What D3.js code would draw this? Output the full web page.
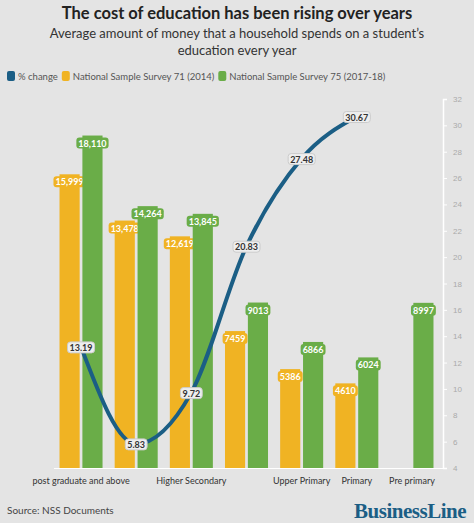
<!DOCTYPE html>
<html>
<head>
<script src="https://cdnjs.cloudflare.com/ajax/libs/d3/7.8.5/d3.min.js"></script>
<style>body{margin:0;background:#e4e4e4}</style>
</head>
<body>
<script>
var categories = ["post graduate and above", "Graduate", "Higher Secondary", "Secondary", "Upper Primary", "Primary", "Pre primary"]
var shownLabels = ["post graduate and above", "Higher Secondary", "Upper Primary", "Primary", "Pre primary"]
var nss71 = [15999, 13478, 12619, 7459, 5386, 4610, null]
var nss75 = [18110, 14264, 13845, 9013, 6866, 6024, 8997]
var pctChange = [13.19, 5.83, 9.72, 20.83, 27.48, 30.67, null]
var rightTicks = [4, 6, 8, 10, 12, 14, 16, 18, 20, 22, 24, 26, 28, 30, 32]

var W = 474, H = 523
var orange = "#f0b323", green = "#6aad48", blue = "#1b5e85"
var svg = d3.select("body").append("svg").attr("width", W).attr("height", H)
  .attr("font-family", "Lato, sans-serif")
svg.append("rect").attr("width", W).attr("height", H).attr("fill", "#e4e4e4")

svg.append("text").attr("x", W/2).attr("y", 19).attr("text-anchor", "middle")
  .attr("font-size", 16.5).attr("font-weight", "bold").attr("fill", "#222")
  .text("The cost of education has been rising over years")
svg.append("text").attr("x", W/2).attr("y", 38).attr("text-anchor", "middle")
  .attr("font-size", 13).attr("fill", "#333")
  .text("Average amount of money that a household spends on a student’s")
svg.append("text").attr("x", W/2).attr("y", 55).attr("text-anchor", "middle")
  .attr("font-size", 13).attr("fill", "#333").text("education every year")

// legend
var legend = [["% change", blue], ["National Sample Survey 71 (2014)", orange], ["National Sample Survey 75 (2017-18)", green]]
var lx = 7
legend.forEach(function(l) {
  svg.append("rect").attr("x", lx).attr("y", 71).attr("width", 8).attr("height", 10).attr("rx", 2).attr("fill", l[1])
  var t = svg.append("text").attr("x", lx + 11).attr("y", 80).attr("font-size", 9.5).attr("fill", "#555").text(l[0])
  lx += 11 + t.node().getComputedTextLength() + 4
})

var x = d3.scaleBand().domain(categories).range([54, 439]).paddingInner(0.22).paddingOuter(0.1)
var x1 = d3.scaleBand().domain(["a", "b"]).range([0, x.bandwidth()]).paddingInner(0.12)
var yBar = d3.scaleLinear().domain([0, 20100]).range([468, 99])
var yPct = d3.scaleLinear().domain([4, 32]).range([468, 99])

// right axis
var ax = svg.append("g").attr("transform", "translate(443,0)")
  .call(d3.axisRight(yPct).tickValues(rightTicks).tickSize(4).tickPadding(6))
ax.select(".domain").attr("stroke", "#fff").attr("stroke-width", 1.5)
ax.selectAll(".tick line").attr("stroke", "#fff")
ax.selectAll("text").attr("fill", "#aaa").attr("font-size", 8)

// baseline
svg.append("line").attr("x1", 54).attr("x2", 443).attr("y1", 468.5).attr("y2", 468.5).attr("stroke", "#fff")

function label(g, xc, y, txt, bg, fg) {
  var t = g.append("text").attr("x", xc).attr("y", y).attr("text-anchor", "middle")
    .attr("font-size", 9).attr("font-weight", "bold").attr("fill", fg).text(txt)
  var b = t.node().getBBox()
  g.insert("rect", "text").attr("x", b.x - 2).attr("y", b.y).attr("width", b.width + 4).attr("height", b.height)
    .attr("rx", 3).attr("fill", bg).attr("stroke", bg === "#eee" ? "#ccc" : "none")
}

var bars = svg.append("g")
categories.forEach(function(c, i) {
  [[nss71[i], "a", orange], [nss75[i], "b", green]].forEach(function(s) {
    if (s[0] == null) return
    var bx = x(c) + x1(s[1])
    bars.append("rect").attr("x", bx).attr("y", yBar(s[0])).attr("width", x1.bandwidth())
      .attr("height", yBar(0) - yBar(s[0])).attr("fill", s[2])
    var g = bars.append("g")
    label(g, bx + x1.bandwidth()/2, yBar(s[0]) + 11, s[0] >= 10000 ? d3.format(",")(s[0]) : String(s[0]), s[2], "#fff")
  })
})

// line
var pts = pctChange.map(function(v, i) { return v == null ? null : [x(categories[i]) + x.bandwidth()/2, yPct(v), v] }).filter(Boolean)
svg.append("path").attr("d", d3.line().curve(d3.curveMonotoneX)(pts))
  .attr("fill", "none").attr("stroke", blue).attr("stroke-width", 4).attr("stroke-linecap", "round")
var lab = svg.append("g")
pts.forEach(function(p) { label(lab, p[0], p[1] + 4, d3.format(".2f")(p[2]), "#eee", "#333") })

// x labels
svg.append("g").selectAll("text").data(shownLabels).join("text")
  .attr("x", d => x(d) + x.bandwidth()/2).attr("y", 484).attr("text-anchor", "middle")
  .attr("font-size", 9).attr("fill", "#333").text(d => d)

svg.append("text").attr("x", 7).attr("y", 514).attr("font-size", 10).attr("fill", "#444").text("Source: NSS Documents")
svg.append("text").attr("x", 466).attr("y", 518).attr("text-anchor", "end").attr("font-family", "Liberation Serif, serif")
  .attr("font-size", 21).attr("font-weight", "bold").attr("fill", "#1b5e85").attr("letter-spacing", -0.5).text("BusinessLine")
</script>
</body>
</html>
